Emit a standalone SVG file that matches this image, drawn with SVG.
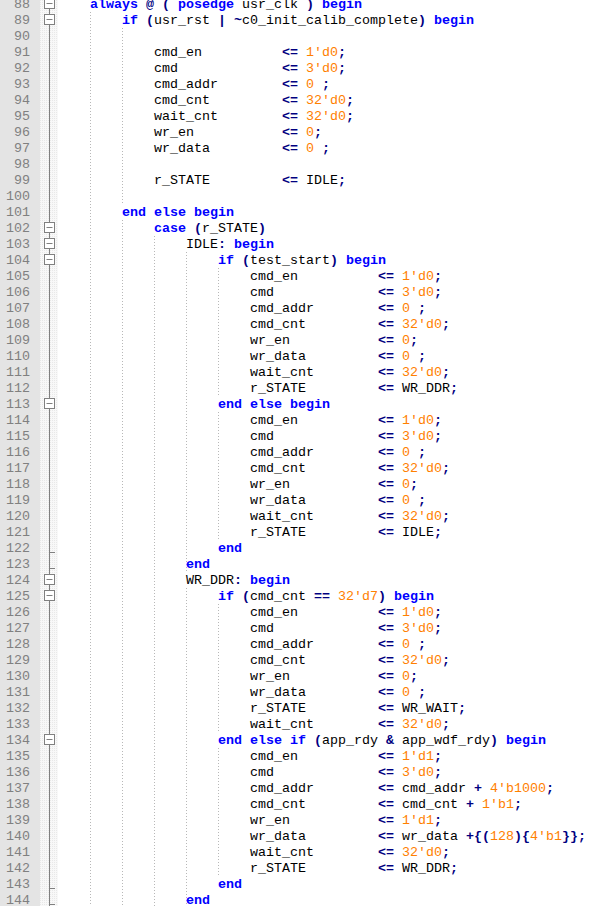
<svg xmlns="http://www.w3.org/2000/svg" width="611" height="906" viewBox="0 0 611 906">
<style>
text{font-family:"Liberation Mono","Courier New",monospace;font-size:13.33px;fill:#000;white-space:pre}
.k{fill:#0000FF;font-weight:bold}
.o{fill:#000080;font-weight:bold}
.n{fill:#FF8000}
.ln text{fill:#808080;text-anchor:end;font-size:13.33px}
.g{stroke:#B8B8B8;stroke-width:1;stroke-dasharray:1 2}
.fb{fill:#fff;stroke:#808080}
.fl{stroke:#808080;fill:none}
</style>
<defs><pattern id="h" width="2" height="2" patternUnits="userSpaceOnUse"><rect width="2" height="2" fill="#F8F8F8"/><rect width="1" height="1" fill="#E8E8E8"/></pattern></defs>
<rect width="611" height="906" fill="#fff"/>
<rect width="40" height="906" fill="#E4E4E4"/>
<rect x="40" width="18" height="906" fill="url(#h)"/>
<g class="ln">
<text x="30" y="8">88</text><text x="30" y="24">89</text><text x="30" y="40">90</text><text x="30" y="56">91</text><text x="30" y="72">92</text><text x="30" y="88">93</text><text x="30" y="104">94</text><text x="30" y="120">95</text><text x="30" y="136">96</text><text x="30" y="152">97</text><text x="30" y="168">98</text><text x="30" y="184">99</text><text x="30" y="200">100</text><text x="30" y="216">101</text><text x="30" y="232">102</text><text x="30" y="248">103</text><text x="30" y="264">104</text><text x="30" y="280">105</text><text x="30" y="296">106</text><text x="30" y="312">107</text><text x="30" y="328">108</text><text x="30" y="344">109</text><text x="30" y="360">110</text><text x="30" y="376">111</text><text x="30" y="392">112</text><text x="30" y="408">113</text><text x="30" y="424">114</text><text x="30" y="440">115</text><text x="30" y="456">116</text><text x="30" y="472">117</text><text x="30" y="488">118</text><text x="30" y="504">119</text><text x="30" y="520">120</text><text x="30" y="536">121</text><text x="30" y="552">122</text><text x="30" y="568">123</text><text x="30" y="584">124</text><text x="30" y="600">125</text><text x="30" y="616">126</text><text x="30" y="632">127</text><text x="30" y="648">128</text><text x="30" y="664">129</text><text x="30" y="680">130</text><text x="30" y="696">131</text><text x="30" y="712">132</text><text x="30" y="728">133</text><text x="30" y="744">134</text><text x="30" y="760">135</text><text x="30" y="776">136</text><text x="30" y="792">137</text><text x="30" y="808">138</text><text x="30" y="824">139</text><text x="30" y="840">140</text><text x="30" y="856">141</text><text x="30" y="872">142</text><text x="30" y="888">143</text><text x="30" y="904">144</text>
</g>
<g id="fold">
<path class="fl" d="M49.5 0V906M49.5 552.5H55M49.5 568.5H55M49.5 888.5H55M49.5 904.5H55"/>
<rect class="fb" x="44.5" y="-1.5" width="10" height="10"/><path class="fl" d="M46.5 3.5h6"/>
<rect class="fb" x="44.5" y="14.5" width="10" height="10"/><path class="fl" d="M46.5 19.5h6"/>
<rect class="fb" x="44.5" y="222.5" width="10" height="10"/><path class="fl" d="M46.5 227.5h6"/>
<rect class="fb" x="44.5" y="238.5" width="10" height="10"/><path class="fl" d="M46.5 243.5h6"/>
<rect class="fb" x="44.5" y="254.5" width="10" height="10"/><path class="fl" d="M46.5 259.5h6"/>
<rect class="fb" x="44.5" y="398.5" width="10" height="10"/><path class="fl" d="M46.5 403.5h6"/>
<rect class="fb" x="44.5" y="574.5" width="10" height="10"/><path class="fl" d="M46.5 579.5h6"/>
<rect class="fb" x="44.5" y="590.5" width="10" height="10"/><path class="fl" d="M46.5 595.5h6"/>
<rect class="fb" x="44.5" y="734.5" width="10" height="10"/><path class="fl" d="M46.5 739.5h6"/>
</g>
<g id="guides">
<path class="g" d="M90.5 12V906M122.5 28V204M122.5 220V906M154.5 236V906M186.5 252V572M186.5 588V906M218.5 268V396M218.5 412V540M218.5 604V732M218.5 748V876"/>
</g>
<g id="code" xml:space="preserve">
<text x="90" y="8"><tspan class="k">always</tspan> <tspan class="o">@</tspan> <tspan class="o">(</tspan> <tspan class="k">posedge</tspan> usr_clk <tspan class="o">)</tspan> <tspan class="k">begin</tspan></text>
<text x="122" y="24"><tspan class="k">if</tspan> <tspan class="o">(</tspan>usr_rst <tspan class="o">|</tspan> <tspan class="o">~</tspan>c0_init_calib_complete<tspan class="o">)</tspan> <tspan class="k">begin</tspan></text>
<text x="154" y="56">cmd_en<tspan x="282" class="o">&lt;=</tspan><tspan x="306" class="n">1'd0</tspan><tspan class="o">;</tspan></text>
<text x="154" y="72">cmd<tspan x="282" class="o">&lt;=</tspan><tspan x="306" class="n">3'd0</tspan><tspan class="o">;</tspan></text>
<text x="154" y="88">cmd_addr<tspan x="282" class="o">&lt;=</tspan><tspan x="306" class="n">0</tspan> <tspan class="o">;</tspan></text>
<text x="154" y="104">cmd_cnt<tspan x="282" class="o">&lt;=</tspan><tspan x="306" class="n">32'd0</tspan><tspan class="o">;</tspan></text>
<text x="154" y="120">wait_cnt<tspan x="282" class="o">&lt;=</tspan><tspan x="306" class="n">32'd0</tspan><tspan class="o">;</tspan></text>
<text x="154" y="136">wr_en<tspan x="282" class="o">&lt;=</tspan><tspan x="306" class="n">0</tspan><tspan class="o">;</tspan></text>
<text x="154" y="152">wr_data<tspan x="282" class="o">&lt;=</tspan><tspan x="306" class="n">0</tspan> <tspan class="o">;</tspan></text>
<text x="154" y="184">r_STATE<tspan x="282" class="o">&lt;=</tspan><tspan x="306">IDLE</tspan><tspan class="o">;</tspan></text>
<text x="122" y="216"><tspan class="k">end</tspan> <tspan class="k">else</tspan> <tspan class="k">begin</tspan></text>
<text x="154" y="232"><tspan class="k">case</tspan> <tspan class="o">(</tspan>r_STATE<tspan class="o">)</tspan></text>
<text x="186" y="248">IDLE<tspan class="o">:</tspan> <tspan class="k">begin</tspan></text>
<text x="218" y="264"><tspan class="k">if</tspan> <tspan class="o">(</tspan>test_start<tspan class="o">)</tspan> <tspan class="k">begin</tspan></text>
<text x="250" y="280">cmd_en<tspan x="378" class="o">&lt;=</tspan><tspan x="402" class="n">1'd0</tspan><tspan class="o">;</tspan></text>
<text x="250" y="296">cmd<tspan x="378" class="o">&lt;=</tspan><tspan x="402" class="n">3'd0</tspan><tspan class="o">;</tspan></text>
<text x="250" y="312">cmd_addr<tspan x="378" class="o">&lt;=</tspan><tspan x="402" class="n">0</tspan> <tspan class="o">;</tspan></text>
<text x="250" y="328">cmd_cnt<tspan x="378" class="o">&lt;=</tspan><tspan x="402" class="n">32'd0</tspan><tspan class="o">;</tspan></text>
<text x="250" y="344">wr_en<tspan x="378" class="o">&lt;=</tspan><tspan x="402" class="n">0</tspan><tspan class="o">;</tspan></text>
<text x="250" y="360">wr_data<tspan x="378" class="o">&lt;=</tspan><tspan x="402" class="n">0</tspan> <tspan class="o">;</tspan></text>
<text x="250" y="376">wait_cnt<tspan x="378" class="o">&lt;=</tspan><tspan x="402" class="n">32'd0</tspan><tspan class="o">;</tspan></text>
<text x="250" y="392">r_STATE<tspan x="378" class="o">&lt;=</tspan><tspan x="402">WR_DDR</tspan><tspan class="o">;</tspan></text>
<text x="218" y="408"><tspan class="k">end</tspan> <tspan class="k">else</tspan> <tspan class="k">begin</tspan></text>
<text x="250" y="424">cmd_en<tspan x="378" class="o">&lt;=</tspan><tspan x="402" class="n">1'd0</tspan><tspan class="o">;</tspan></text>
<text x="250" y="440">cmd<tspan x="378" class="o">&lt;=</tspan><tspan x="402" class="n">3'd0</tspan><tspan class="o">;</tspan></text>
<text x="250" y="456">cmd_addr<tspan x="378" class="o">&lt;=</tspan><tspan x="402" class="n">0</tspan> <tspan class="o">;</tspan></text>
<text x="250" y="472">cmd_cnt<tspan x="378" class="o">&lt;=</tspan><tspan x="402" class="n">32'd0</tspan><tspan class="o">;</tspan></text>
<text x="250" y="488">wr_en<tspan x="378" class="o">&lt;=</tspan><tspan x="402" class="n">0</tspan><tspan class="o">;</tspan></text>
<text x="250" y="504">wr_data<tspan x="378" class="o">&lt;=</tspan><tspan x="402" class="n">0</tspan> <tspan class="o">;</tspan></text>
<text x="250" y="520">wait_cnt<tspan x="378" class="o">&lt;=</tspan><tspan x="402" class="n">32'd0</tspan><tspan class="o">;</tspan></text>
<text x="250" y="536">r_STATE<tspan x="378" class="o">&lt;=</tspan><tspan x="402">IDLE</tspan><tspan class="o">;</tspan></text>
<text x="218" y="552" class="k">end</text>
<text x="186" y="568" class="k">end</text>
<text x="186" y="584">WR_DDR<tspan class="o">:</tspan> <tspan class="k">begin</tspan></text>
<text x="218" y="600"><tspan class="k">if</tspan> <tspan class="o">(</tspan>cmd_cnt <tspan class="o">==</tspan> <tspan class="n">32'd7</tspan><tspan class="o">)</tspan> <tspan class="k">begin</tspan></text>
<text x="250" y="616">cmd_en<tspan x="378" class="o">&lt;=</tspan><tspan x="402" class="n">1'd0</tspan><tspan class="o">;</tspan></text>
<text x="250" y="632">cmd<tspan x="378" class="o">&lt;=</tspan><tspan x="402" class="n">3'd0</tspan><tspan class="o">;</tspan></text>
<text x="250" y="648">cmd_addr<tspan x="378" class="o">&lt;=</tspan><tspan x="402" class="n">0</tspan> <tspan class="o">;</tspan></text>
<text x="250" y="664">cmd_cnt<tspan x="378" class="o">&lt;=</tspan><tspan x="402" class="n">32'd0</tspan><tspan class="o">;</tspan></text>
<text x="250" y="680">wr_en<tspan x="378" class="o">&lt;=</tspan><tspan x="402" class="n">0</tspan><tspan class="o">;</tspan></text>
<text x="250" y="696">wr_data<tspan x="378" class="o">&lt;=</tspan><tspan x="402" class="n">0</tspan> <tspan class="o">;</tspan></text>
<text x="250" y="712">r_STATE<tspan x="378" class="o">&lt;=</tspan><tspan x="402">WR_WAIT</tspan><tspan class="o">;</tspan></text>
<text x="250" y="728">wait_cnt<tspan x="378" class="o">&lt;=</tspan><tspan x="402" class="n">32'd0</tspan><tspan class="o">;</tspan></text>
<text x="218" y="744"><tspan class="k">end</tspan> <tspan class="k">else</tspan> <tspan class="k">if</tspan> <tspan class="o">(</tspan>app_rdy <tspan class="o">&amp;</tspan> app_wdf_rdy<tspan class="o">)</tspan> <tspan class="k">begin</tspan></text>
<text x="250" y="760">cmd_en<tspan x="378" class="o">&lt;=</tspan><tspan x="402" class="n">1'd1</tspan><tspan class="o">;</tspan></text>
<text x="250" y="776">cmd<tspan x="378" class="o">&lt;=</tspan><tspan x="402" class="n">3'd0</tspan><tspan class="o">;</tspan></text>
<text x="250" y="792">cmd_addr<tspan x="378" class="o">&lt;=</tspan><tspan x="402">cmd_addr <tspan class="o">+</tspan> <tspan class="n">4'b1000</tspan><tspan class="o">;</tspan></tspan></text>
<text x="250" y="808">cmd_cnt<tspan x="378" class="o">&lt;=</tspan><tspan x="402">cmd_cnt <tspan class="o">+</tspan> <tspan class="n">1'b1</tspan><tspan class="o">;</tspan></tspan></text>
<text x="250" y="824">wr_en<tspan x="378" class="o">&lt;=</tspan><tspan x="402" class="n">1'd1</tspan><tspan class="o">;</tspan></text>
<text x="250" y="840">wr_data<tspan x="378" class="o">&lt;=</tspan><tspan x="402">wr_data <tspan class="o">+{(</tspan><tspan class="n">128</tspan><tspan class="o">){</tspan><tspan class="n">4'b1</tspan><tspan class="o">}};</tspan></tspan></text>
<text x="250" y="856">wait_cnt<tspan x="378" class="o">&lt;=</tspan><tspan x="402" class="n">32'd0</tspan><tspan class="o">;</tspan></text>
<text x="250" y="872">r_STATE<tspan x="378" class="o">&lt;=</tspan><tspan x="402">WR_DDR</tspan><tspan class="o">;</tspan></text>
<text x="218" y="888" class="k">end</text>
<text x="186" y="904" class="k">end</text>
</g>
</svg>
